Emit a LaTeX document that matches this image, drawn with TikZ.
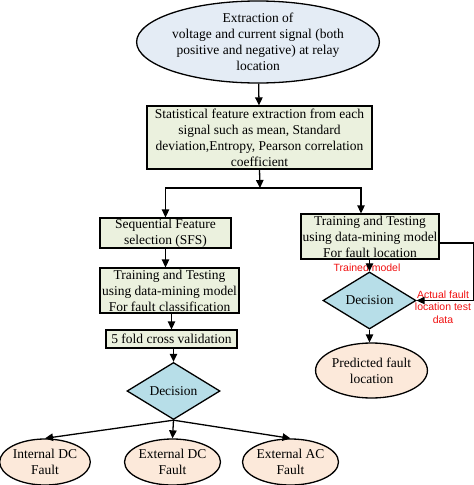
\documentclass[tikz,border=0pt]{standalone}
\usepackage{fontspec}
\setmainfont{Liberation Serif}
\newfontfamily\labelfont{Liberation Sans}
\usetikzlibrary{shapes.geometric,arrows.meta}

\definecolor{topfill}{HTML}{E4ECF5}
\definecolor{boxfill}{HTML}{EBF1DE}
\definecolor{decfill}{HTML}{B7DEE8}
\definecolor{endfill}{HTML}{FCE9DA}
\definecolor{notered}{HTML}{F01010}

\tikzset{
  >={Triangle[length=8pt,width=7.5pt]},
  procbox/.style={draw, line width=1.3pt, fill=boxfill, inner sep=0pt, align=center,
    font=\fontsize{13.5}{16}\selectfont},
  startell/.style={draw, ellipse, line width=1.3pt, fill=topfill, inner sep=0pt, align=center,
    font=\fontsize{13.5}{16}\selectfont},
  endell/.style={draw, ellipse, line width=1.3pt, fill=endfill, inner sep=0pt, align=center,
    font=\fontsize{13.5}{16}\selectfont},
  decide/.style={draw, diamond, line width=1.3pt, fill=decfill, inner sep=0pt,
    minimum width=93pt, minimum height=30pt, font=\fontsize{13.5}{16}\selectfont},
  note/.style={text=notered, align=center, inner sep=0pt, font=\labelfont\fontsize{10.5}{12.5}\selectfont}
}

\begin{document}
\begin{tikzpicture}[x=1pt, y=-1pt, line width=1.3pt]
        \useasboundingbox (0,0) rectangle (474,485);

        \node[startell, minimum width=207pt, minimum height=82pt] at (258, 42)(extract){Extraction of\\voltage and current signal (both\\positive and negative) at relay\\location};
        \node[procbox, minimum width=225pt, minimum height=63pt] at (259.5, 137.5)(stats){Statistical feature extraction from each\\signal such as mean, Standard\\deviation,Entropy, Pearson correlation\\coefficient};
        \coordinate (split) at (260, 188);

        % classification branch
        \node[procbox, minimum width=131pt, minimum height=30pt] at (165.5, 233)(sfs){Sequential Feature\\selection (SFS)};
        \node[procbox, minimum width=139pt, minimum height=45pt] at (169.5, 290.5)(trainC){Training and Testing\\using data-mining model\\For fault classification};
        \node[procbox, minimum width=131pt, minimum height=18pt] at (171.5, 339)(cv){5 fold cross validation};
        \node[decide] at (173.5, 391)(decL){Decision};
        \node[endell, minimum width=84pt, minimum height=46pt] at (45, 462)(intDC){Internal DC\\Fault};
        \node[endell, minimum width=87pt, minimum height=46pt] at (172.5, 462)(extDC){External DC\\Fault};
        \node[endell, minimum width=89pt, minimum height=46pt] at (290.5, 462)(extAC){External AC\\Fault};

        % location branch
        \node[procbox, minimum width=138pt, minimum height=45pt] at (370, 236.5)(trainL){Training and Testing\\using data-mining model\\For fault location};
        \node[decide] at (369.5, 300.5)(decR){Decision};
        \node[endell, minimum width=109pt, minimum height=55pt] at (371.5, 370.5)(pred){Predicted fault\\location};
        \node[note] at (367, 268)(trained){Trained model};
        \node[note] at (443, 307)(actual){Actual fault\\location test\\data};

        \path[->]
        (extract)edge(stats)
        (stats.south)edge(split)
        (sfs.south)edge(sfs.south |- trainC.north)
        (trainC.south -| cv.north)edge(cv.north)
        (cv.south -| decL.north)edge(decL.north)
        (decL.south)edge(intDC.north)
        (decL.south)edge(extDC.north)
        (decL.south)edge(extAC.north)
        (trainL.south -| decR.north)edge(decR.north)
        (decR.south)edge(decR.south |- pred.north)
        ;
        \draw[->] (split) -| (sfs.north);
        \draw[->] (split) -| ([xshift=-9pt]trainL.north);
        \draw[->] ([yshift=-6.5pt]trainL.east) -- ++(34,0) |- (decR.east);
    \end{tikzpicture}
\end{document}
